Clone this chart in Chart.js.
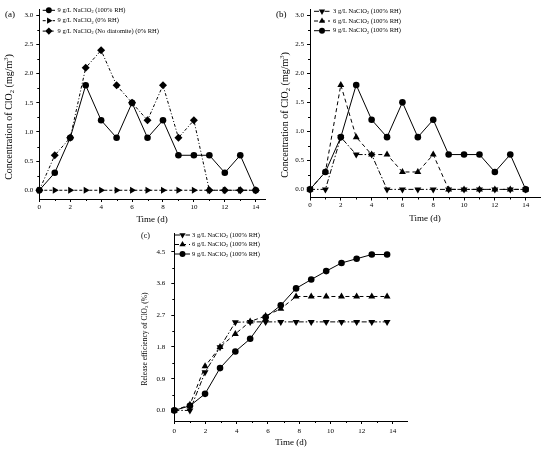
<!DOCTYPE html>
<html>
<head>
<meta charset="utf-8">
<script src="https://cdn.jsdelivr.net/npm/chart.js@4.4.0/dist/chart.umd.min.js"></script>
<style>
  html, body { margin: 0; padding: 0; background: #fff; }
  #wrap { position: relative; width: 550px; height: 457px; }
  #wrap canvas { position: absolute; left: 0; top: 0; }
</style>
</head>
<body>
<div id="wrap">
  <canvas id="chartA" width="550" height="457"></canvas>
  <canvas id="chartB" width="550" height="457"></canvas>
  <canvas id="chartC" width="550" height="457"></canvas>
</div>
<script>
// time axis (days) and tick values
const days = [0, 1, 2, 3, 4, 5, 6, 7, 8, 9, 10, 11, 12, 13, 14];
const daysC = [0, 1, 1.97, 2.93, 3.91, 4.86, 5.85, 6.82, 7.8, 8.77, 9.73, 10.71, 11.68, 12.65, 13.63];
const dayTicks = [0, 2, 4, 6, 8, 10, 12, 14];
const concTicks = [0, 0.5, 1, 1.5, 2, 2.5, 3];
const effTicks = [0, 0.9, 1.8, 2.7, 3.6, 4.5];

// legend labels (_x = subscript, ^x = superscript)
const labelsA = ['9 g/L NaClO_2 (100% RH)', '9 g/L NaClO_2 (0% RH)', '9 g/L NaClO_2 (No diatomite) (0% RH)'];
const labelsBC = ['3 g/L NaClO_2 (100% RH)', '6 g/L NaClO_2 (100% RH)', '9 g/L NaClO_2 (100% RH)'];

// (a) concentration, mg/m3
const conc9Wet = [0, 0.3, 0.9, 1.8, 1.2, 0.9, 1.5, 0.9, 1.2, 0.6, 0.6, 0.6, 0.3, 0.6, 0];
const conc9Dry = [0, 0, 0, 0, 0, 0, 0, 0, 0, 0, 0, 0, 0, 0, 0];
const conc9NoDiatomite = [0, 0.6, 0.9, 2.1, 2.4, 1.8, 1.5, 1.2, 1.8, 0.9, 1.2, 0, 0, 0, 0];

// (b) concentration, mg/m3
const conc3Wet = [0, 0, 0.9, 0.6, 0.6, 0, 0, 0, 0, 0, 0, 0, 0, 0, 0];
const conc6Wet = [0, 0.3, 1.8, 0.9, 0.6, 0.6, 0.3, 0.3, 0.6, 0, 0, 0, 0, 0, 0];

// (c) release efficiency, %
const eff3 = [0, 0, 1.08, 1.79, 2.5, 2.51, 2.51, 2.51, 2.51, 2.51, 2.51, 2.51, 2.51, 2.51, 2.51];
const eff6 = [0, 0.16, 1.25, 1.8, 2.17, 2.52, 2.68, 2.88, 3.23, 3.23, 3.23, 3.23, 3.23, 3.23, 3.23];
const eff9 = [0, 0.13, 0.47, 1.2, 1.67, 2.03, 2.64, 2.98, 3.46, 3.71, 3.95, 4.18, 4.3, 4.42, 4.42];

const SERIF = '"Liberation Serif", "DejaVu Serif", serif';
const Y_BOX = 30;
const X_BOX = 20;

// line + marker looks
const SOLID_CIRCLE = { pointStyle: 'circle', pointRadius: 3.3, borderDash: [] };
const RIGHT_TRI = { pointStyle: 'triangle', pointRotation: 90, pointRadius: 4, borderDash: [3, 2] };
const DIAMOND = { pointStyle: 'rectRot', pointRadius: 4, borderDash: [3, 2, 1, 2] };
const DOWN_TRI = { pointStyle: 'triangle', pointRotation: 180, pointRadius: 4, borderDash: [5, 2, 1.5, 2] };
const UP_TRI = { pointStyle: 'triangle', pointRadius: 4, borderDash: [4, 3] };

function series(label, xs, ys, look) {
  return Object.assign({
    label: label,
    data: xs.map((x, i) => ({ x: x, y: ys[i] })),
    borderColor: '#000',
    backgroundColor: '#000',
    pointBackgroundColor: '#000',
    pointBorderWidth: 0,
    borderWidth: 1,
    tension: 0,
    clip: false
  }, look);
}

// split "ClO_2 (mg/m^3)" into normal / sub / sup pieces
function splitRich(s) {
  const parts = [];
  let buf = '';
  for (let i = 0; i < s.length; i++) {
    const c = s[i];
    if ((c === '_' || c === '^') && i + 1 < s.length) {
      if (buf) parts.push({ t: buf, m: '' });
      buf = '';
      parts.push({ t: s[i + 1], m: c === '_' ? 'sub' : 'sup' });
      i++;
    } else {
      buf += c;
    }
  }
  if (buf) parts.push({ t: buf, m: '' });
  return parts;
}

function drawRich(ctx, s, x, y, size, align) {
  const parts = splitRich(s);
  const small = size * 0.65;
  let w = 0;
  parts.forEach(p => {
    ctx.font = `${p.m ? small : size}px ${SERIF}`;
    p.w = ctx.measureText(p.t).width;
    w += p.w;
  });
  let cx = align === 'center' ? x - w / 2 : x;
  ctx.textBaseline = 'middle';
  ctx.textAlign = 'left';
  parts.forEach(p => {
    ctx.font = `${p.m ? small : size}px ${SERIF}`;
    const dy = p.m === 'sub' ? size * 0.28 : (p.m === 'sup' ? -size * 0.32 : 0);
    ctx.fillText(p.t, cx, y + dy);
    cx += p.w;
  });
}

// minor ticks, panel tag, axis titles and the Origin-style legend
const decorPlugin = {
  id: 'decor',
  afterDraw(chart, args, opts) {
    const ctx = chart.ctx;
    const area = chart.chartArea;
    ctx.save();
    ctx.fillStyle = '#000';
    ctx.strokeStyle = '#000';
    ctx.lineWidth = 1;

    const xs = chart.scales.x, ys = chart.scales.y;
    for (let i = 0; i < xs.ticks.length - 1; i++) {
      const px = Math.round(xs.getPixelForValue((xs.ticks[i].value + xs.ticks[i + 1].value) / 2)) + 0.5;
      ctx.beginPath();
      ctx.moveTo(px, area.bottom);
      ctx.lineTo(px, area.bottom + 2);
      ctx.stroke();
    }
    for (let i = 0; i < ys.ticks.length - 1; i++) {
      const py = Math.round(ys.getPixelForValue((ys.ticks[i].value + ys.ticks[i + 1].value) / 2)) + 0.5;
      ctx.beginPath();
      ctx.moveTo(area.left, py);
      ctx.lineTo(area.left - 2, py);
      ctx.stroke();
    }

    drawRich(ctx, opts.tag, opts.tagX, opts.tagY, opts.tagSize, 'left');
    drawRich(ctx, 'Time (d)', (area.left + area.right) / 2, opts.xTitleY, 9, 'center');
    ctx.save();
    ctx.translate(opts.yTitleX, opts.yTitleY);
    ctx.rotate(-Math.PI / 2);
    drawRich(ctx, opts.yTitle, 0, 0, opts.yTitleSize, 'center');
    ctx.restore();

    const lg = opts.legend;
    chart.data.datasets.forEach((ds, i) => {
      const y = lg.y + i * lg.dy;
      ctx.setLineDash(ds.borderDash || []);
      ctx.beginPath();
      ctx.moveTo(lg.x0, y);
      ctx.lineTo(lg.x1, y);
      ctx.stroke();
      ctx.setLineDash([]);
      Chart.helpers.drawPoint(ctx, {
        pointStyle: ds.pointStyle,
        rotation: ds.pointRotation || 0,
        radius: ds.pointRadius * 0.9,
        borderWidth: 0
      }, (lg.x0 + lg.x1) / 2, y);
      drawRich(ctx, ds.label, lg.tx, y, 6.5, 'left');
    });
    ctx.restore();
  }
};

function makeChart(id, datasets, cfg) {
  return new Chart(document.getElementById(id), {
    type: 'line',
    data: { datasets: datasets },
    options: {
      responsive: false,
      animation: false,
      events: [],
      layout: {
        padding: {
          left: cfg.left - Y_BOX,
          top: cfg.top,
          right: 550 - cfg.right,
          bottom: 457 - cfg.bottom - X_BOX
        }
      },
      plugins: {
        legend: { display: false },
        tooltip: { enabled: false },
        decor: cfg.decor
      },
      scales: {
        x: {
          type: 'linear',
          min: 0,
          max: cfg.xMax,
          afterBuildTicks: s => { s.ticks = dayTicks.map(v => ({ value: v })); },
          afterFit: s => { s.height = X_BOX; },
          grid: { drawOnChartArea: false, tickLength: 3, color: '#000' },
          border: { display: true, color: '#000', width: 1 },
          ticks: {
            color: '#000',
            font: { family: SERIF, size: 7 },
            padding: cfg.xPad,
            autoSkip: false,
            maxRotation: 0,
            callback: v => String(v)
          }
        },
        y: {
          min: cfg.yMin,
          max: cfg.yMax,
          afterBuildTicks: s => { s.ticks = cfg.yTicks.map(v => ({ value: v })); },
          afterFit: s => { s.width = Y_BOX; },
          grid: { drawOnChartArea: false, tickLength: 3, color: '#000' },
          border: { display: true, color: '#000', width: 1 },
          ticks: {
            color: '#000',
            font: { family: SERIF, size: 7 },
            padding: cfg.yPad,
            autoSkip: false,
            callback: v => v.toFixed(1)
          }
        }
      }
    },
    plugins: [decorPlugin]
  });
}

const concTitle = 'Concentration of ClO_2 (mg/m^3)';

makeChart('chartA', [
  series(labelsA[0], days, conc9Wet, SOLID_CIRCLE),
  series(labelsA[1], days, conc9Dry, RIGHT_TRI),
  series(labelsA[2], days, conc9NoDiatomite, DIAMOND)
], {
  left: 39.3, right: 265, top: 9.5, bottom: 199,
  xMax: 14.6, yMin: -0.15, yMax: 3.1, yTicks: concTicks, xPad: 0.5, yPad: 3,
  decor: {
    tag: '(a)', tagX: 5, tagY: 15, tagSize: 9,
    xTitleY: 220, yTitle: concTitle, yTitleX: 9, yTitleY: 117, yTitleSize: 10,
    legend: { x0: 42.7, x1: 55, tx: 57.5, y: 10.3, dy: 10.4 }
  }
});

makeChart('chartB', [
  series(labelsBC[0], days, conc3Wet, DOWN_TRI),
  series(labelsBC[1], days, conc6Wet, UP_TRI),
  series(labelsBC[2], days, conc9Wet, SOLID_CIRCLE)
], {
  left: 310, right: 540, top: 9.5, bottom: 197.5,
  xMax: 14.93, yMin: -0.14, yMax: 3.1, yTicks: concTicks, xPad: 0.5, yPad: 3,
  decor: {
    tag: '(b)', tagX: 276, tagY: 15, tagSize: 9,
    xTitleY: 219, yTitle: concTitle, yTitleX: 285, yTitleY: 115, yTitleSize: 10,
    legend: { x0: 314, x1: 330, tx: 333, y: 11.3, dy: 9.7 }
  }
});

makeChart('chartC', [
  series(labelsBC[0], daysC, eff3, DOWN_TRI),
  series(labelsBC[1], daysC, eff6, UP_TRI),
  series(labelsBC[2], daysC, eff9, SOLID_CIRCLE)
], {
  left: 174.3, right: 407.7, top: 233, bottom: 421,
  xMax: 14.95, yMin: -0.3, yMax: 5.03, yTicks: effTicks, xPad: 3, yPad: 6,
  decor: {
    tag: '(c)', tagX: 141, tagY: 236, tagSize: 8,
    xTitleY: 443, yTitle: 'Release efficiency of ClO_2 (%)', yTitleX: 145, yTitleY: 339, yTitleSize: 7.5,
    legend: { x0: 175, x1: 190, tx: 192, y: 235, dy: 9.5 }
  }
});
</script>
</body>
</html>
